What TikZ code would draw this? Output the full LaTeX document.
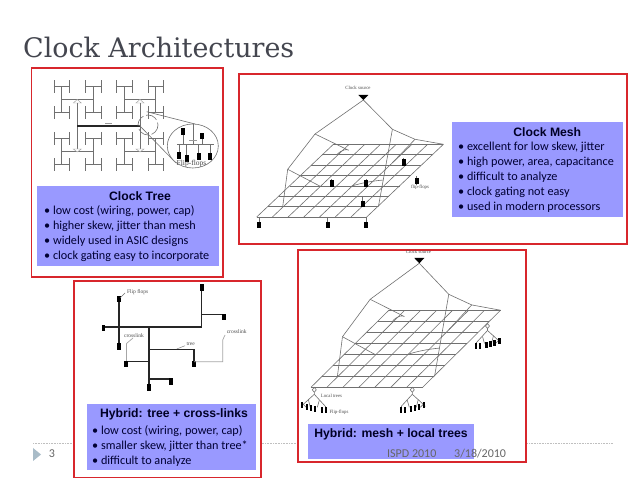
\documentclass[tikz,border=0pt]{standalone}
\usepackage{fontspec}
\setmainfont{Carlito}
\newfontfamily\titlefont{DejaVu Serif}
\newfontfamily\headfont{Liberation Sans}
\newfontfamily\tinyfont{Liberation Serif}
\usetikzlibrary{calc}

\definecolor{boxred}{HTML}{D8262C}
\definecolor{panelblue}{HTML}{9999FF}
\definecolor{wiregray}{HTML}{707070}
\definecolor{titlegray}{HTML}{44464F}
\definecolor{footgray}{HTML}{666666}
\definecolor{arrowblue}{HTML}{A9BCC8}

\tikzset{
    redbox/.style={draw=boxred, line width=1.4pt, fill=white},
    bluepanel/.style={fill=panelblue},
    wire/.style={draw=wiregray, line width=0.6pt},
    fatwire/.style={draw=black!85, line width=1.1pt},
    softwire/.style={draw=black!35, line width=0.7pt},
    panelhead/.style={font=\headfont\bfseries\fontsize{12.2}{15}\selectfont, text=black!85!blue, inner sep=0pt},
    panelitems/.style={font=\fontsize{12.2}{15}\selectfont, text=black!80!blue, align=left, anchor=north west, inner sep=0pt},
    tinylabel/.style={font=\tinyfont\fontsize{5.5}{6}\selectfont, text=black!70, inner sep=0pt},
    tinierlabel/.style={font=\tinyfont\fontsize{4.8}{6}\selectfont, text=black!70, inner sep=0pt},
    footlabel/.style={font=\fontsize{12}{15}\selectfont, text=footgray, inner sep=0pt},
    ffbox/.pic={\fill[black] (-1.9,-3.2) rectangle (1.9,3.2);},
    % One mesh with its feeding wires, origin at the lower left corner
    meshgrid/.pic={
        \coordinate (bl) at (0,0);
        \coordinate (br) at (110,0);
        \coordinate (tl) at (76.7,-72.7);
        \coordinate (tr) at (186.7,-72.7);
        \foreach \i in {0,...,7} {
            \draw[wire] ($(bl)!\i/7!(tl)$) -- ($(br)!\i/7!(tr)$);
            \draw[wire] ($(bl)!\i/7!(br)$) -- ($(tl)!\i/7!(tr)$);
        }
        % Wires from the source to the mesh
        \coordinate (src) at (106.7,-117);
        \coordinate (lefta) at (58.3,-83);
        \coordinate (leftb) at (31,-47.7);
        \coordinate (leftc) at (26,-10.3);
        \coordinate (righta) at (135.7,-87.7);
        \coordinate (rightb) at (158.3,-77.7);
        \coordinate (rightc) at (121.7,-10.3);
        \draw[wire] (src) -- (lefta) -- (leftb) -- (leftc);
        \draw[wire] (lefta) -- (92,-66.7) .. controls (91,-68) and (85,-68) .. (80,-62);
        \draw[wire] (leftb) -- (63,-31);
        \draw[wire] (src) -- (righta) -- (rightc);
        \draw[wire] (righta) -- (rightb) -- (tr);
        \draw[wire] (rightb) -- (135.7,-54.3);
        \draw[wire] (95,-31) .. controls (105,-34) and (115,-36) .. (127,-37);
        \fill[black] ($(src)+(-5,-5)$) -- ($(src)+(5,-5)$) -- (src) -- cycle;
    },
    % One local tree, origin at its root on the mesh
    localtree/.pic={
        \coordinate (root) at (0,0);
        \coordinate (fork) at (0,7);
        \draw[wire] (root) -- (-2,2.5) -- (0,5) -- (2,2.5) -- cycle;
        \draw[wire] (0,5) -- (fork) -- (-11,19);
        \draw[wire] (fork) -- (11,17);
        \draw[wire] (-5,13) -- (-3,20);
        \draw[wire] (6,12) -- (4,20);
        \draw[wire] (-11,19) -- (-11,21);
        \draw[wire] (11,17) -- (13,19);
        \draw[wire] (11,17) -- (8,20);
        \foreach \x/\y in {-11.5/23, -7.5/23, -1/21.5, 3/20.5, 7/20, 12/18} {
            \fill[black] ($(\x,\y)+(-1.1,-3)$) rectangle ($(\x,\y)+(1.1,3)$);
        }
    }
}

\begin{document}
\begin{tikzpicture}[x=1pt, y=-1pt]
    \useasboundingbox (0,0) rectangle (638,478);
    \fill[white] (0,0) rectangle (638,478);

    % Title and footer line
    \node[font=\titlefont\fontsize{26.9}{30}\selectfont, text=titlegray, anchor=base west, inner sep=0pt] (title) at (23,58) {Clock Architectures};
    \draw[densely dotted, black!25, line width=0.6pt] (33,443) -- (613,443);
    \fill[arrowblue] (33,448) -- (41,454.5) -- (33,461) -- cycle;
    \node[footlabel] (pagenum) at (52,454) {3};

    % Red frames
    \draw[redbox] (31.5,68) rectangle (223,277);
    \draw[redbox] (239,74) rectangle (627,244);
    \draw[redbox] (74,281) rectangle (261,477.5);
    \draw[redbox] (298,250) rectangle (526,462);

    % Clock tree: four groups of H shapes
    \foreach \cx in {77.3,140} {
        \foreach \cy in {99.75,151.75} {
            \draw[wire] (\cx-15.7,\cy) -- (\cx+15.7,\cy);
            \foreach \sx in {-15.7,15.7} {
                \draw[wire] (\cx+\sx,\cy-13) -- (\cx+\sx,\cy+13);
                \foreach \sy in {-13,13} {
                    \draw[wire] (\cx+\sx-7.8,\cy+\sy) -- (\cx+\sx+7.8,\cy+\sy);
                    \draw[wire] (\cx+\sx-7.8,\cy+\sy-6.5) -- (\cx+\sx-7.8,\cy+\sy+6.5);
                    \draw[wire] (\cx+\sx+7.8,\cy+\sy-6.5) -- (\cx+\sx+7.8,\cy+\sy+6.5);
                }
            }
        }
        \draw[wire] (\cx,99.75) -- (\cx,151.75);
        \draw[black!40, fill=white] (\cx-4,103) -- (\cx+4,103) -- (\cx,99.5) -- cycle;
        \draw[black!40, fill=white] (\cx-4,149) -- (\cx+4,149) -- (\cx,152) -- cycle;
    }
    \draw[fatwire] (77.3,126) -- (140,126);
    \draw[black!40] (105,123.5) -- (112,123.5);

    % Zoom circles on the tree
    \coordinate (zoomtop) at (146.7,111.7);
    \coordinate (zoomlow) at (139,125);
    \draw[wire, dash pattern=on 12pt off 3pt] (148,125) circle [radius=10];
    \draw[wire] (zoomtop) -- (195,124);
    \draw[wire] (zoomlow) -- (176,163);
    \draw[wire, fill=white] (192.8,146) ellipse [x radius=25.5, y radius=22];
    \draw[wire] (193,124) -- (193,144);
    \draw[wire] (177,144) -- (214,144);
    \draw[black!40] (189,140) -- (197,140);
    \foreach \fx/\fy in {183.3/131.7, 202.3/136, 179/155.7, 186.7/158.7, 198.7/156.7, 210/156.7} {
        \draw[wire] (\fx,\fy) -- (\fx,144);
        \pic at (\fx,\fy) {ffbox};
    }
    \node[tinylabel, font=\tinyfont\fontsize{7.5}{8}\selectfont] (treeffs) at (191.5,164) {Flip-flops};

    % Clock mesh
    \pic (meshone) at (256.7,217) {meshgrid};
    \node[tinierlabel] (meshsrc) at (358,88) {Clock source};
    \foreach \fx/\ftop/\fbot in {259.3/217/225, 327.7/217/225, 366/217/225, 362.7/196/206, 366/179/186, 331.7/179/186, 403.7/158/165, 416.7/176/185} {
        \draw[wire] (\fx,\ftop) -- (\fx,\fbot);
    }
    \foreach \fx/\fy in {259.3/225, 327.7/225, 366/225, 362.7/204, 366/183.5, 331.7/183.5, 403.7/162.5, 416.7/181} {
        \pic at (\fx,\fy) {ffbox};
    }
    \node[tinierlabel] (meshffs) at (420,187.7) {flip-flops};

    % Hybrid tree
    \coordinate (hleft) at (103,327);
    \coordinate (hmid) at (149,327);
    \coordinate (hright) at (201.7,327);
    \draw[fatwire] (hleft) -- (hright);
    \draw[fatwire] (119,299) -- (119,346.7);
    \draw[fatwire] (201.7,288) -- (hright);
    \draw[fatwire] (201.7,314.5) -- (224,314.5) -- (224,317);
    \draw[fatwire] (hmid) -- (149,387.7);
    \draw[fatwire] (126,361.7) -- (149,361.7);
    \draw[fatwire] (149,349.7) -- (194,349.7) -- (194,364);
    \draw[fatwire] (149,379) -- (171,379);
    \foreach \fx/\fy in {119/299.3, 201.7/287.7, 103.5/328, 224/317, 119/346.7, 126/364, 194/364, 149/387.7, 171/381.7} {
        \pic at (\fx,\fy) {ffbox};
    }
    \draw[softwire] (126.5,361) -- (126.5,343.5) -- (133,338);
    \draw[softwire] (194,361.7) -- (222.7,361.7) -- (222.7,340) -- (225,335);
    \draw[wiregray, line width=0.4pt] (176.7,349) -- (185,345.7);
    \draw[wiregray, line width=0.4pt] (120,298) -- (125,293);
    \node[tinylabel] (hybff) at (137.7,292.3) {Flip flops};
    \node[tinylabel] (cross1) at (134,336) {crosslink};
    \node[tinylabel] (cross2) at (236.7,332) {crosslink};
    \node[tinylabel] (hybtree) at (190.7,344) {tree};

    % Hybrid mesh
    \pic (meshtwo) [xscale=1.015, yscale=1.06] at (311,387.3) {meshgrid};
    \node[tinierlabel] (mesh2src) at (418.5,251.5) {Clock source};
    \pic at (314.3,387.3) [xscale=-1] {localtree};
    \pic at (412.3,387.3) {localtree};
    \pic at (487.5,323.5) {localtree};
    \node[tinierlabel] (loctrees) at (331.5,396) {Local trees};
    \node[tinierlabel] (locffs) at (339,412.7) {Flip-flops};

    % Blue panels with their text
    \fill[bluepanel] (37,186) rectangle (219,266);
    \fill[bluepanel] (452,122) rectangle (623,217);
    \fill[bluepanel] (87,404) rectangle (256,470);
    \fill[bluepanel] (308,424) rectangle (474,459);

    \node[panelhead] (treehead) at (140,196) {Clock Tree};
    \node[panelitems] (treeitems) at (44,205.8) {• low cost (wiring, power, cap)\\• higher skew, jitter than mesh\\• widely used in ASIC designs\\• clock gating easy to incorporate};

    \node[panelhead] (meshhead) at (547.3,132) {Clock Mesh};
    \node[panelitems] (meshitems) at (458,142.3) {• excellent for low skew, jitter\\• high power, area, capacitance\\• difficult to analyze\\• clock gating not easy\\• used in modern processors};

    \node[panelhead] (hybhead) at (174,414.3) {Hybrid: tree + cross-links};
    \node[panelitems] (hybitems) at (92,425) {• low cost (wiring, power, cap)\\• smaller skew, jitter than tree*\\• difficult to analyze};

    \node[panelhead] (localhead) at (391,434) {Hybrid: mesh + local trees};

    % Footer text sits over the panel
    \node[footlabel, anchor=west] (footconf) at (387,454) {ISPD 2010};
    \node[footlabel, anchor=west] (footdate) at (454,454) {3/18/2010};
\end{tikzpicture}
\end{document}
